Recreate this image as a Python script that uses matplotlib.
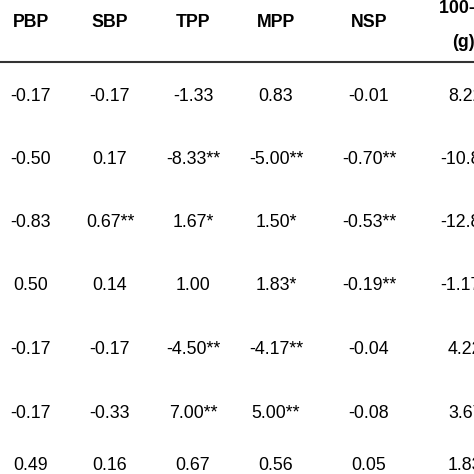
import matplotlib.pyplot as plt

plt.rcParams['font.family'] = ['Liberation Sans', 'DejaVu Sans']

#--------- table data ---------
columns = ['PBP', 'SBP', 'TPP', 'MPP', 'NSP']
last_header = ['100-seed weight', '(g)']
PBP = ['-0.17', '-0.50', '-0.83', '0.50', '-0.17', '-0.17', '0.49']
SBP = ['-0.17', '0.17', '0.67**', '0.14', '-0.17', '-0.33', '0.16']
TPP = ['-1.33', '-8.33**', '1.67*', '1.00', '-4.50**', '7.00**', '0.67']
MPP = ['0.83', '-5.00**', '1.50*', '1.83*', '-4.17**', '5.00**', '0.56']
NSP = ['-0.01', '-0.70**', '-0.53**', '-0.19**', '-0.04', '-0.08', '0.05']
SW = ['8.22', '-10.83**', '-12.83**', '-1.17', '4.22', '3.67', '1.83']

#--------- layout (pixels) ---------
W = H = 474
col_x = [31, 110, 193, 276, 369]
row_y = [96, 159, 222, 286, 350, 414, 465]
FS = 12.8

fig = plt.figure(figsize=(4.74, 4.74), dpi=100)
ax = fig.add_axes([0, 0, 1, 1])
ax.set_xlim(0, W)
ax.set_ylim(H, 0)
ax.axis('off')

for x, name in zip(col_x, columns):
    ax.text(x, 22, name, ha='center', va='center', fontsize=FS, fontweight='bold')
ax.text(439, 8, last_header[0], ha='left', va='center', fontsize=FS, fontweight='bold')
ax.text(452, 42, last_header[1], ha='left', va='center', fontsize=FS, fontweight='bold')

ax.plot([0, W], [62, 62], color='#333333', lw=1.5)

for x, vals in zip(col_x, [PBP, SBP, TPP, MPP, NSP]):
    for y, v in zip(row_y, vals):
        ax.text(x, y, v, ha='center', va='center', fontsize=FS)
for y, v in zip(row_y, SW):
    ax.text(448 if not v.startswith('-') else 440, y, v, ha='left', va='center', fontsize=FS)

fig.savefig('out.png', dpi=100)
